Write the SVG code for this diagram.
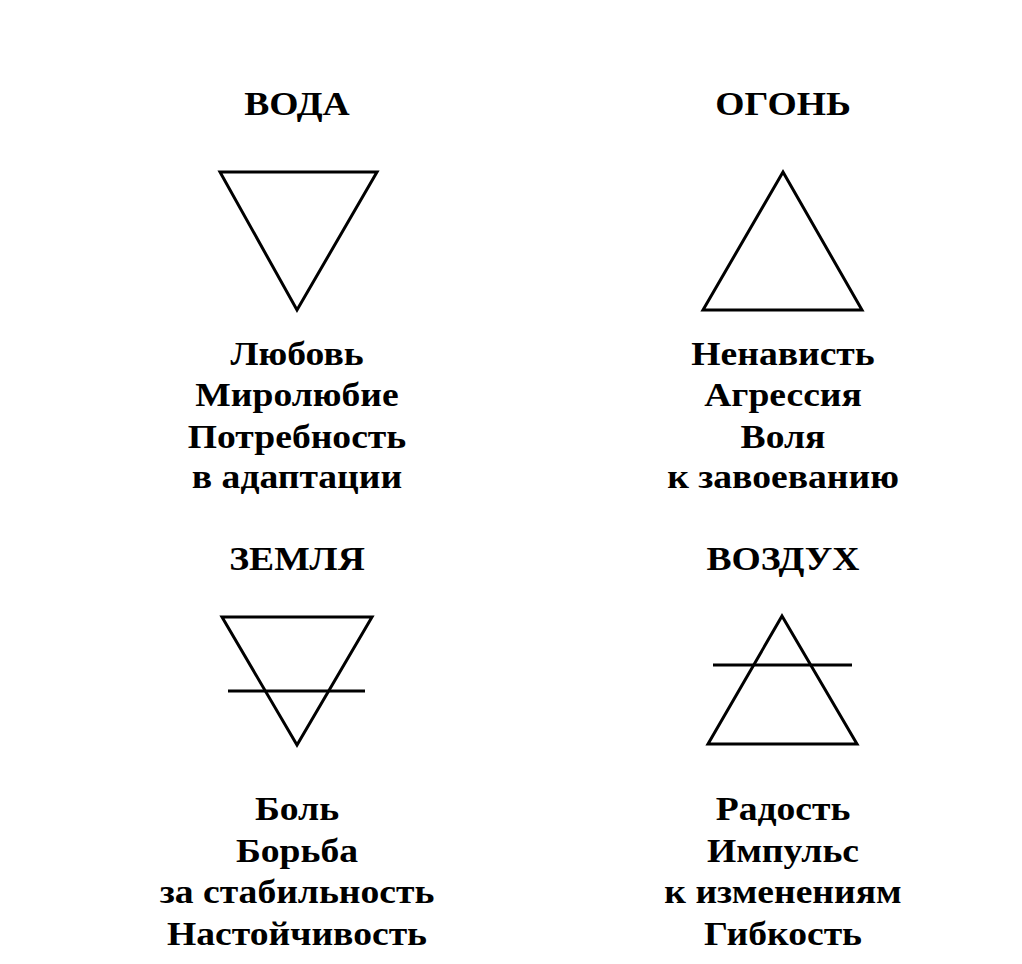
<svg xmlns="http://www.w3.org/2000/svg" width="1022" height="964" viewBox="0 0 1022 964">
<style>
text{font-family:"Liberation Serif","DejaVu Serif",serif;font-weight:bold;font-size:33px;text-anchor:middle;fill:#000}
.s{fill:none;stroke:#000;stroke-width:3}
</style>
<rect width="1022" height="964" fill="#fff"/>
<g id="water">
<polygon class="s" points="220,172 377,172 297,310"/>
<g transform="translate(297,0) scale(1.14,1)">
<text x="0" y="115">ВОДА</text>
<text x="0" y="365">Любовь</text>
<text x="0" y="406">Миролюбие</text>
<text x="0" y="448">Потребность</text>
<text x="0" y="488">в адаптации</text>
</g>
</g>
<g id="fire">
<polygon class="s" points="783,172 862,310 703,310"/>
<g transform="translate(783,0) scale(1.14,1)">
<text x="0" y="115">ОГОНЬ</text>
<text x="0" y="365">Ненависть</text>
<text x="0" y="406">Агрессия</text>
<text x="0" y="448">Воля</text>
<text x="0" y="488">к завоеванию</text>
</g>
</g>
<g id="earth">
<polygon class="s" points="222,617 372,617 297,745"/>
<line class="s" x1="228" y1="691" x2="365" y2="691"/>
<g transform="translate(297,0) scale(1.14,1)">
<text x="0" y="570">ЗЕМЛЯ</text>
<text x="0" y="820">Боль</text>
<text x="0" y="862">Борьба</text>
<text x="0" y="903">за стабильность</text>
<text x="0" y="945">Настойчивость</text>
</g>
</g>
<g id="air">
<polygon class="s" points="782,616 857,744 708,744"/>
<line class="s" x1="713" y1="665" x2="852" y2="665"/>
<g transform="translate(783,0) scale(1.14,1)">
<text x="0" y="570">ВОЗДУХ</text>
<text x="0" y="820">Радость</text>
<text x="0" y="862">Импульс</text>
<text x="0" y="903">к изменениям</text>
<text x="0" y="945">Гибкость</text>
</g>
</g>
<g id="connectors"/>
</svg>
